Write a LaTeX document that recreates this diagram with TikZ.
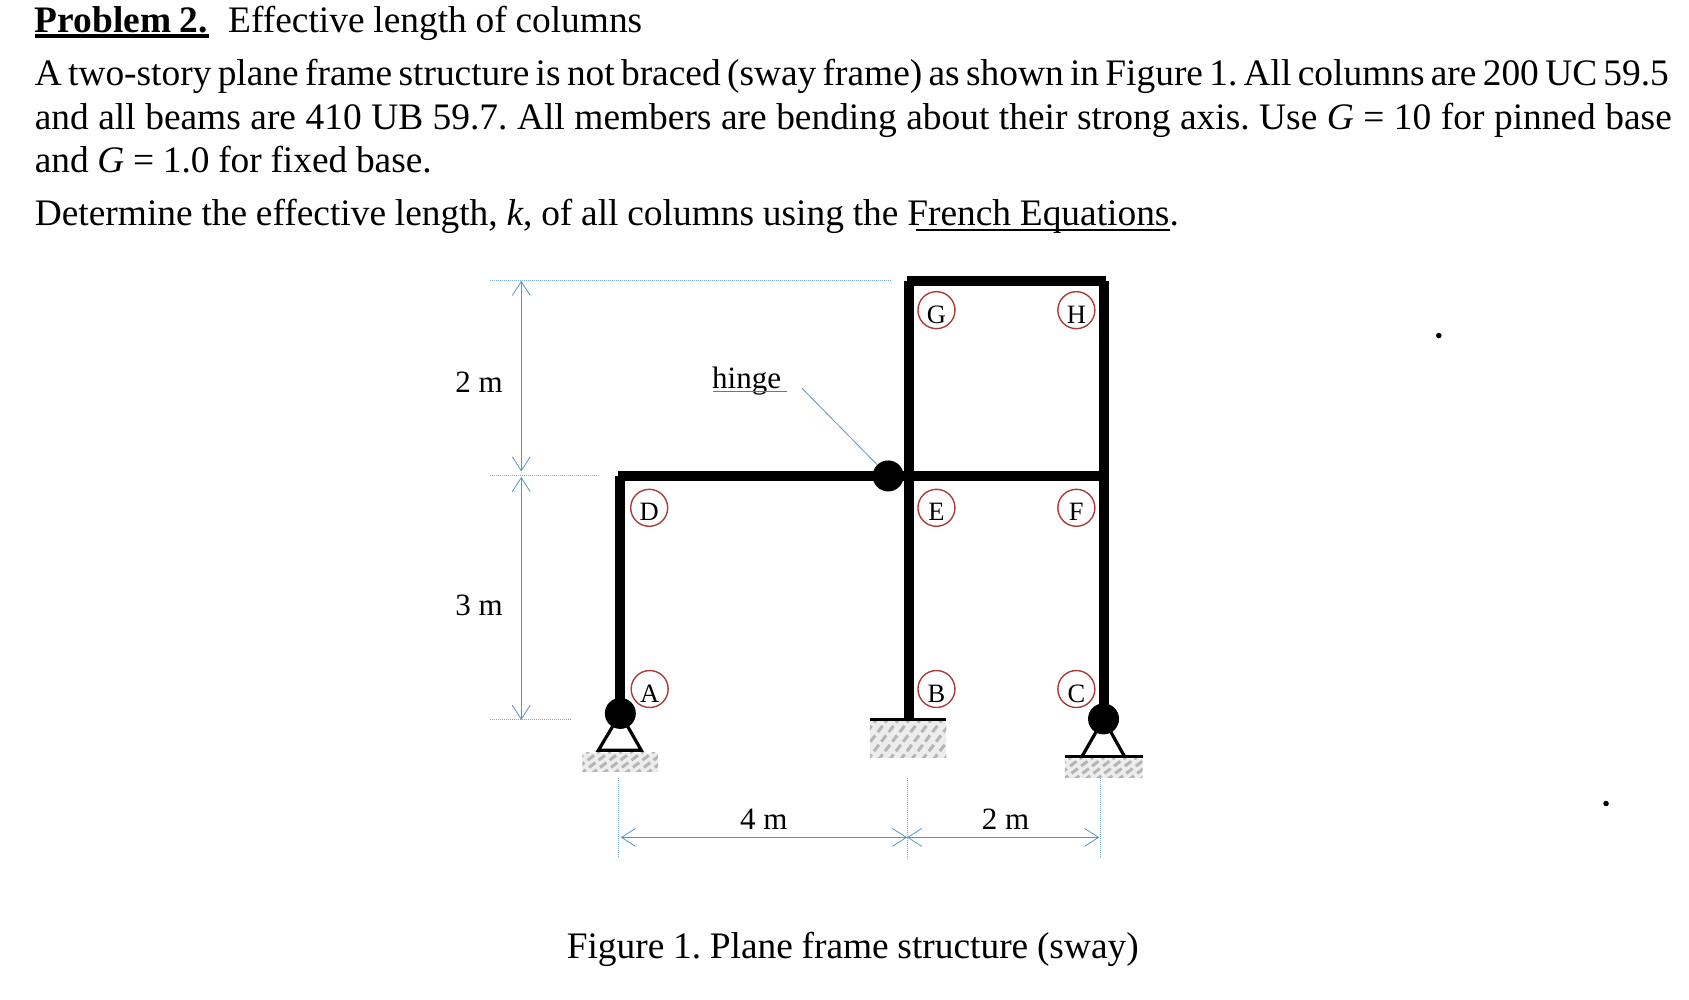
\documentclass[tikz,border=0pt]{standalone}
\usepackage{fontspec}
\setmainfont{Liberation Serif}
\usetikzlibrary{arrows.meta}
\definecolor{dimblue}{HTML}{5596C6}
\definecolor{ringred}{HTML}{A83C3C}
\frenchspacing
\newcommand{\LL}[2]{\makebox[#1pt][s]{\spaceskip=.2em plus .3em minus .08em\relax #2}}
\tikzset{
  txt/.style={anchor=base west,inner sep=0pt,font=\fontsize{37.4}{42}\selectfont},
  dimtxt/.style={anchor=base,inner sep=0pt,font=\fontsize{31}{34}\selectfont},
  ringnode/.style={circle,draw=ringred,line width=1.4pt,minimum size=37pt,inner sep=0pt,font=\fontsize{26.5}{28}\selectfont},
  member/.style={line width=10pt,line cap=butt,line join=miter,black},
  hingept/.style={circle,fill=black,minimum size=31pt,inner sep=0pt},
  support/.style={line width=3.2pt,black,line join=miter},
  dimline/.style={line width=0.8pt,dimblue,{Straight Barb[length=14pt,width=18pt,line width=0.8pt,fill=none]}-{Straight Barb[length=14pt,width=18pt,line width=0.8pt,fill=none]}},
  extline/.style={line width=1pt,dimblue!80,densely dotted},
  dotmark/.style={circle,fill=black,minimum size=5.5pt,inner sep=0pt},
}
\newcommand{\hatchbox}[4]{%
  \begin{scope}
    \clip (#1,#2) rectangle (#3,#4);
    \fill[gray!14] (#1,#2) rectangle (#3,#4);
    \foreach \i in {0,11,...,143}{
      \draw[gray!58,line width=3pt,dash pattern=on 8pt off 4pt]
        (#1+\i-25,#4+3) -- (#1+\i+8,#2-3);
    }
  \end{scope}}
\newcommand{\ltr}[1]{\smash{\raisebox{-13pt}{#1}}}
\begin{document}
\begin{tikzpicture}[x=0.9957pt,y=-0.9957pt]
\useasboundingbox (0,0) rectangle (1696.3,1004.3);
% text
\node[txt,font=\fontsize{37.4}{42}\selectfont\bfseries] (t1a) at (34.8,33) {\LL{173}{Problem 2.}};
\node[txt] (t1b) at (229,33) {\LL{414}{Effective length of columns}};
\node[txt] (t2) at (34.8,86) {\LL{1634}{A two-story plane frame structure is not braced (sway frame) as shown in Figure 1. All columns are 200 UC 59.5}};
\node[txt] (t3) at (34.8,130) {\LL{1637}{and all beams are 410 UB 59.7. All members are bending about their strong axis. Use \textit{G} = 10 for pinned base}};
\node[txt] (t4) at (34.8,173.5) {\LL{397}{and \textit{G} = 1.0 for fixed base.}};
\node[txt] (t5) at (34.8,226) {\LL{1144}{Determine the effective length, \textit{k}, of all columns using the French Equations.}};
\node[txt] (cap) at (569,963) {\LL{572}{Figure 1. Plane frame structure (sway)}};
\coordinate (u1a) at (35,36.5); \coordinate (u1b) at (210,36.5);
\draw[line width=4pt] (u1a) -- (u1b);
\coordinate (u5a) at (920,231); \coordinate (u5b) at (1175,231);
\draw[line width=1.4pt] (u5a) -- (u5b);
% joints
\coordinate (Dj) at (623,478);
\coordinate (Dl) at (620.5,478);
\coordinate (Aj) at (623,716.5);
\coordinate (Ej) at (913.3,478);
\coordinate (Bj) at (913.3,722);
\coordinate (Gj) at (913.3,282);
\coordinate (Gl) at (911,282);
\coordinate (Hj) at (1108.3,282);
\coordinate (Hl) at (1110.5,282);
\coordinate (Fj) at (1108.3,478);
\coordinate (Cj) at (1108.3,722);
% dimension extension lines
\coordinate (e1a) at (492,282); \coordinate (e1b) at (895,282);
\coordinate (e2a) at (492,478); \coordinate (e2b) at (602,478);
\coordinate (e3a) at (492,723); \coordinate (e3b) at (574,723);
\draw[extline] (e1a) -- (e1b);
\draw[extline] (e2a) -- (e2b);
\draw[extline] (e3a) -- (e3b);
\coordinate (e4a) at (621.5,781); \coordinate (e4b) at (621.5,861);
\coordinate (e5a) at (911,781); \coordinate (e5b) at (911,862);
\coordinate (e6a) at (1105,781); \coordinate (e6b) at (1105,861);
\draw[extline] (e4a) -- (e4b);
\draw[extline] (e5a) -- (e5b);
\draw[extline] (e6a) -- (e6b);
% dimensions
\coordinate (v1) at (523.5,282); \coordinate (v2) at (523.5,473.5);
\coordinate (v3) at (523.5,479); \coordinate (v4) at (523.5,723);
\draw[dimline] (v1) -- (v2);
\draw[dimline] (v3) -- (v4);
\coordinate (h1) at (623.5,841); \coordinate (h2) at (911,841); \coordinate (h3) at (1104,841);
\draw[dimline] (h1) -- (h2);
\draw[dimline] (h2) -- (h3);
\node[dimtxt] (d2m) at (481,394.5) {2 m};
\node[dimtxt] (d3m) at (481,618) {3 m};
\node[dimtxt] (d4m) at (767,833) {4 m};
\node[dimtxt] (d2mb) at (1010,833) {2 m};
% ground
\hatchbox{585}{756}{661}{775}
\hatchbox{873.5}{724}{950.5}{761}
\hatchbox{1069.5}{762}{1147.5}{781}
% frame
\draw[member] (Dj) -- (Aj);
\draw[member] (Dl) -- (Fj);
\draw[member] (Gj) -- (Bj);
\draw[member] (Hj) -- (Cj);
\draw[member] (Gl) -- (Hl);
% supports
\coordinate (Atl) at (601,753.5); \coordinate (Atr) at (644,753.5);
\draw[support] (Aj) -- (Atl) -- (Atr) -- cycle;
\coordinate (Bpl) at (873.5,722.5); \coordinate (Bpr) at (950.5,722.5);
\draw[support] (Bpl) -- (Bpr);
\coordinate (Cbl) at (1069.5,760); \coordinate (Cbr) at (1147.5,760);
\coordinate (Cl) at (1086.5,760); \coordinate (Cr) at (1129.5,760);
\draw[support] (Cbl) -- (Cbr);
\draw[support] (Cl) -- (Cj) -- (Cr);
% hinges
\node[hingept] (hA) at (Aj) {};
\node[hingept] (hC) at (Cj) {};
\node[hingept] (hE) at (892,478) {};
% hinge label
\node[anchor=base west,inner sep=0pt,font=\fontsize{31}{34}\selectfont] (hl) at (715,390) {hinge};
\coordinate (hu1) at (716,393.5); \coordinate (hu2) at (790,393.5);
\draw[line width=1.2pt,dimblue!85!black] (hu1) -- (hu2);
\coordinate (lead) at (805.5,390);
\draw[line width=0.8pt,dimblue] (lead) -- (hE);
% ring labels
\node[ringnode] (G) at (940.5,311.5) {\ltr{G}};
\node[ringnode] (H) at (1081,311.5) {\ltr{H}};
\node[ringnode] (D) at (652,510) {\ltr{D}};
\node[ringnode] (E) at (940.5,510) {\ltr{E}};
\node[ringnode] (F) at (1081,510) {\ltr{F}};
\node[ringnode] (A) at (652.5,692) {\ltr{A}};
\node[ringnode] (B) at (940.5,692) {\ltr{B}};
\node[ringnode] (C) at (1081,692) {\ltr{C}};
% stray dots
\node[dotmark] (dot1) at (1445,337) {};
\node[dotmark] (dot2) at (1613,807) {};
\end{tikzpicture}
\end{document}
